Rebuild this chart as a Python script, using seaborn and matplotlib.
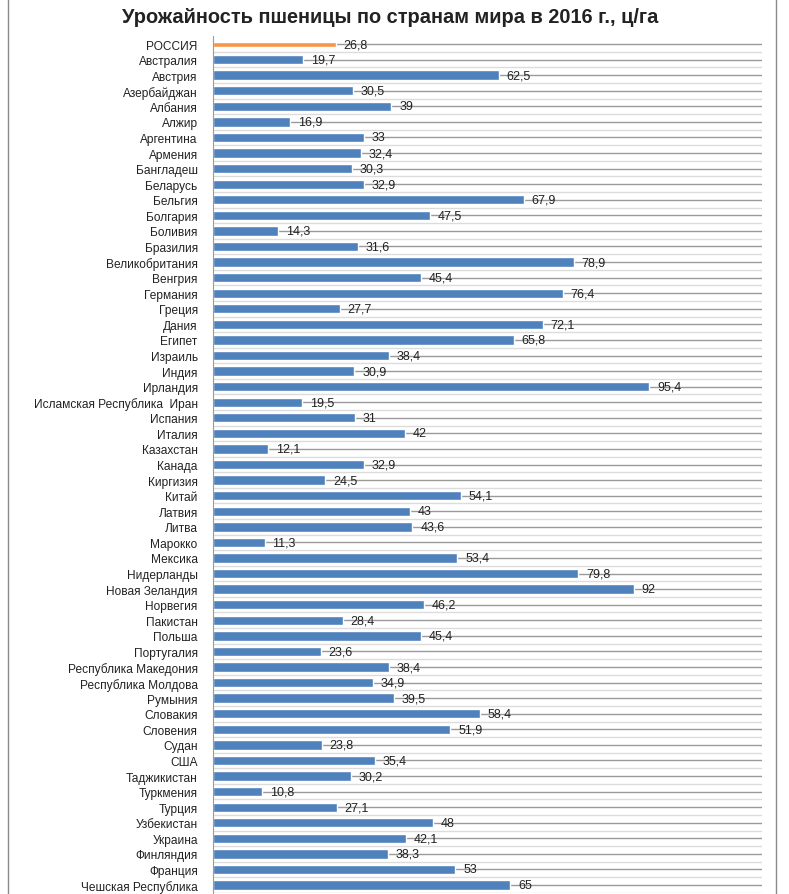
import numpy as np
import pandas as pd
import seaborn as sns
import matplotlib.pyplot as plt
from matplotlib.patches import Rectangle

# -----------------------------
# Data
# -----------------------------
countries = [
    'РОССИЯ', 'Австралия', 'Австрия', 'Азербайджан', 'Албания', 'Алжир', 'Аргентина',
    'Армения', 'Бангладеш', 'Беларусь', 'Бельгия', 'Болгария', 'Боливия', 'Бразилия',
    'Великобритания', 'Венгрия', 'Германия', 'Греция', 'Дания', 'Египет', 'Израиль',
    'Индия', 'Ирландия', 'Исламская Республика  Иран', 'Испания', 'Италия', 'Казахстан',
    'Канада', 'Киргизия', 'Китай', 'Латвия', 'Литва', 'Марокко', 'Мексика', 'Нидерланды',
    'Новая Зеландия', 'Норвегия', 'Пакистан', 'Польша', 'Португалия',
    'Республика Македония', 'Республика Молдова', 'Румыния', 'Словакия', 'Словения',
    'Судан', 'США', 'Таджикистан', 'Туркмения', 'Турция', 'Узбекистан', 'Украина',
    'Финляндия', 'Франция', 'Чешская Республика',
]
yields = [
    26.8, 19.7, 62.5, 30.5, 39, 16.9, 33,
    32.4, 30.3, 32.9, 67.9, 47.5, 14.3, 31.6,
    78.9, 45.4, 76.4, 27.7, 72.1, 65.8, 38.4,
    30.9, 95.4, 19.5, 31, 42, 12.1,
    32.9, 24.5, 54.1, 43, 43.6, 11.3, 53.4, 79.8,
    92, 46.2, 28.4, 45.4, 23.6,
    38.4, 34.9, 39.5, 58.4, 51.9,
    23.8, 35.4, 30.2, 10.8, 27.1, 48, 42.1,
    38.3, 53, 65,
]
highlight = 'РОССИЯ'

df = pd.DataFrame({'country': countries, 'yield': yields})
df['group'] = np.where(df['country'] == highlight, 'ru', 'other')

blue = '#4F81BD'
orange = '#F79646'

# -----------------------------
# Plot
# -----------------------------
sns.set_style('white')
plt.rcParams['font.family'] = ['Liberation Sans', 'DejaVu Sans']

fig = plt.figure(figsize=(7.89, 8.95), dpi=100)
ax = fig.add_axes([213 / 789, 0.0013, (762 - 213) / 789, 0.9584 - 0.0013])

# grid lines at category centers (dark) and between (light)
n = len(countries)
for i in range(n):
    ax.axhline(i, color='#9a9a9a', lw=1.0, zorder=0)
    ax.axhline(i + 0.5, color='#dcdcdc', lw=1.0, zorder=0)

sns.barplot(data=df, x='yield', y='country', hue='group',
            palette={'ru': orange, 'other': blue}, order=countries,
            width=0.6, dodge=False, legend=False, ax=ax, zorder=2,
            saturation=1)

# Russia bar is thinner in the original
for patch in ax.patches:
    y0 = patch.get_y()
    h = patch.get_height()
    if abs(y0 + h / 2) < 0.01 and patch.get_facecolor()[0] > 0.9:
        patch.set_height(0.32)
        patch.set_y(-0.16)

for i, v in enumerate(yields):
    lbl = ('%g' % v).replace('.', ',')
    ax.text(v + 1.7, i, lbl, va='center', ha='left', fontsize=9, color='#222222', zorder=3)

ax.set_xlim(0, 120)
ax.set_ylim(n - 0.5, -0.5)
ax.set_xlabel('')
ax.set_ylabel('')
ax.set_xticks([])
ax.tick_params(axis='y', length=0, pad=11, labelsize=8.6, labelcolor='#222222')
for s in ['top', 'right', 'bottom']:
    ax.spines[s].set_visible(False)
ax.spines['left'].set_color('#9a9a9a')

fig.text(0.495, 0.981, 'Урожайность пшеницы по странам мира в 2016 г., ц/га',
         ha='center', va='center', fontsize=14.4, fontweight='bold', color='#222222')

# outer frame of the chart area
fig.patches.append(Rectangle((8 / 789, -0.01), (776 - 8) / 789, 1.05,
                             transform=fig.transFigure, fill=False,
                             edgecolor='#8c8c8c', lw=1.0))

fig.savefig('out.png', dpi=100)
